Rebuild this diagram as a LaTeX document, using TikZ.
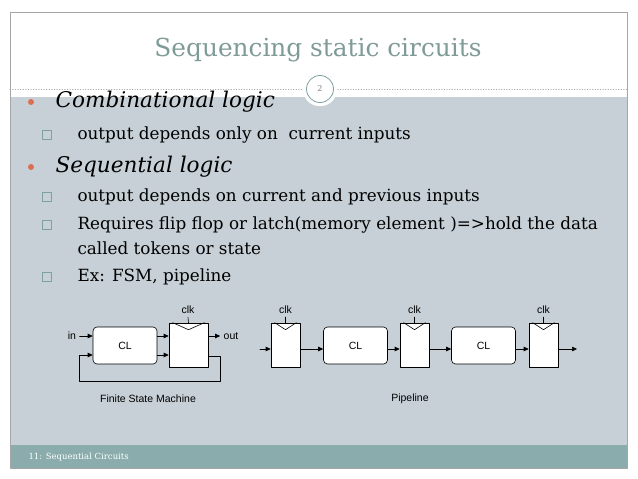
\documentclass[tikz,border=0pt]{standalone}
\usepackage{fontspec}
\setmainfont{DejaVu Serif}
\newfontfamily\diagfont{Liberation Sans}
\usetikzlibrary{arrows.meta}
\definecolor{bodygrey}{HTML}{C6D0D6}
\definecolor{footteal}{HTML}{8AACAC}
\definecolor{titleteal}{HTML}{7F9B97}
\definecolor{dotorange}{HTML}{D9704F}
\definecolor{sqteal}{HTML}{7FA0A0}
\tikzset{
  clbox/.style={draw,rounded corners=4pt,fill=white,line width=0.6pt,minimum width=64pt,minimum height=37pt,font=\diagfont\fontsize{10.5}{12}\selectfont},
  regbox/.style={draw,fill=white,line width=0.6pt,minimum height=44pt},
  lbl/.style={font=\diagfont\fontsize{10.5}{12}\selectfont},
  wire/.style={line width=0.6pt,-{Triangle[length=5pt,width=4.5pt]}},
  sub/.style={anchor=west,font=\fontsize{16.8}{20}\selectfont},
  sq/.style={draw=sqteal,line width=0.9pt,minimum size=8.5pt,inner sep=0pt}
}
\newcommand{\notch}[1]{%
  \draw[line width=0.6pt] ([xshift=4pt]#1.north west) -- ([yshift=-7pt]#1.north) -- ([xshift=-4pt]#1.north east);}
\begin{document}
\begin{tikzpicture}[x=1pt,y=-1pt,line cap=round,line join=round]
\useasboundingbox (0,0) rectangle (638,479);
% slide
\fill[white] (0,0) rectangle (638,479);
\fill[bodygrey] (10,97) rectangle (627,445);
\fill[footteal] (10,445) rectangle (627,468);
\draw[gray!70,line width=0.6pt] (10,12) rectangle (627,468);
\draw[gray!70,dotted,line width=0.6pt] (10,89) -- (627,89);
\filldraw[fill=white,draw=white] (320,89) circle (17);
\draw[sqteal,line width=0.8pt] (320,89) circle (13.5);
\node (pg) at (320,89) {\fontsize{8}{9}\selectfont\color{gray}2};
\node (title) at (318,50) {\fontsize{24.8}{28}\selectfont\color{titleteal}Sequencing static circuits};
\node (foot) [anchor=west] at (25,457) {\fontsize{8.5}{10}\selectfont\color{white}11: Sequential Circuits};
% bullets
\fill[dotorange] (31,102) circle (3);
\node (comb) [sub,font=\fontsize{21.6}{24}\selectfont\itshape] at (52,102) {Combinational logic};
\node (sq1) [sq] at (47,135) {};
\node (t1) [sub] at (74,135) {output depends only on\ \ current inputs};
\fill[dotorange] (31,167) circle (3);
\node (seq) [sub,font=\fontsize{21.6}{24}\selectfont\itshape] at (52,167) {Sequential logic};
\node (sq2) [sq] at (47,197) {};
\node (t2) [sub] at (74,197) {output depends on current and previous inputs};
\node (sq3) [sq] at (47,225) {};
\node (t3) [sub] at (74,225) {Requires flip flop or latch(memory element )=>hold the data};
\node (t4) [sub] at (74,248) {called tokens or state};
\node (sq4) [sq] at (47,277) {};
\node (t5) [sub] at (74,277) {Ex: FSM, pipeline};
% finite state machine
\node (cl) [clbox] at (125,345.5) {CL};
\node (reg) [regbox,minimum width=39pt] at (188.5,345) {};
\notch{reg}
\node (clk) [lbl] at (188,310) {clk};
\draw[line width=0.6pt] (clk.south) -- (reg.north);
\node (in) [lbl] at (72,336) {in};
\node (out) [lbl] at (231,336) {out};
\draw[wire] (in.east) -- (cl.west |- in.east);
\draw[wire] (cl.east |- in.east) -- (reg.west |- in.east);
\draw[wire] (cl.east |- 0,355) -- (reg.west |- 0,355);
\draw[wire] (reg.east |- in.east) -- (out.west);
\draw[wire] (reg.east |- 0,356) -- (220,356) -- (220,381) -- (79,381) -- (79,355) -- (cl.west |- 0,355);
\node (fsm) [lbl] at (148,399) {Finite State Machine};
% pipeline
\node (r1) [regbox,minimum width=29pt] at (285.5,345) {};
\node (c1) [clbox] at (355.5,345.5) {CL};
\node (r2) [regbox,minimum width=29pt] at (414.5,345) {};
\node (c2) [clbox] at (483.5,345.5) {CL};
\node (r3) [regbox,minimum width=29pt] at (543.5,345) {};
\foreach \r in {r1,r2,r3}{
  \notch{\r}
  \node (clk\r) [lbl] at ([yshift=13pt]\r.north) {clk};
  \draw[line width=0.6pt] (clk\r.south) -- (\r.north);
}
\coordinate (pin) at (260,349);
\coordinate (pout) at (577,349);
\draw[wire] (pin) -- (r1.west |- pin);
\draw[wire] (r1.east |- pin) -- (c1.west |- pin);
\draw[wire] (c1.east |- pin) -- (r2.west |- pin);
\draw[wire] (r2.east |- pin) -- (c2.west |- pin);
\draw[wire] (c2.east |- pin) -- (r3.west |- pin);
\draw[wire] (r3.east |- pin) -- (pout);
\node (pipe) [lbl] at (410,399) {Pipeline};
\end{tikzpicture}
\end{document}
